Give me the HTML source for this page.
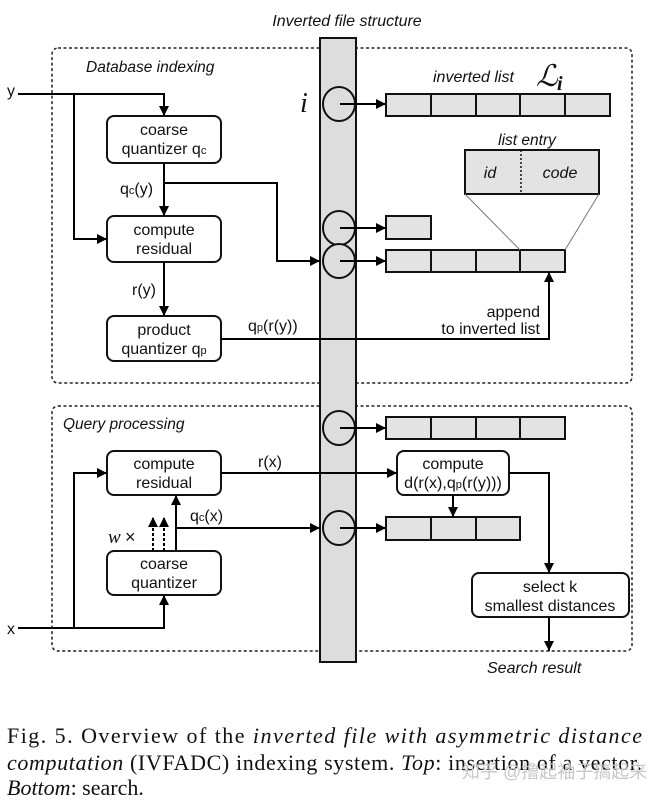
<!DOCTYPE html>
<html><head><meta charset="utf-8"><style>
html,body{margin:0;padding:0;background:#fff;}
svg{display:block;}
text{font-family:"Liberation Sans",sans-serif;fill:#111;}
text.s,.cap text{font-family:"Liberation Serif",serif;}
</style></head><body>
<svg width="672" height="802" viewBox="0 0 672 802" xmlns="http://www.w3.org/2000/svg">
<defs>
<marker id="a" viewBox="0 0 10 10" refX="10" refY="5" markerWidth="10" markerHeight="10" markerUnits="userSpaceOnUse" orient="auto"><path d="M0,0 L10,5 L0,10 z" fill="#000"/></marker>
</defs>
<g fill="none" stroke="#222" stroke-width="1.5" stroke-dasharray="3,2.5">
<rect x="52" y="48" width="580" height="335" rx="6"/>
<rect x="52" y="406" width="580" height="245" rx="6"/>
</g>
<text x="347" y="26" font-size="16" font-style="italic" text-anchor="middle">Inverted file structure</text>
<rect x="320" y="38" width="36" height="624" fill="#ddd" stroke="#111" stroke-width="2"/>
<text x="86" y="72" font-size="15.5" font-style="italic">Database indexing</text>
<text x="63" y="429" font-size="15.5" font-style="italic">Query processing</text>
<g fill="#ddd" stroke="#111" stroke-width="2">
<ellipse cx="339" cy="104" rx="16" ry="17"/>
<ellipse cx="339" cy="228" rx="16" ry="17"/>
<ellipse cx="339" cy="261" rx="16" ry="17"/>
<ellipse cx="339" cy="428" rx="16" ry="17"/>
<ellipse cx="339" cy="528" rx="16" ry="17"/>
</g>
<text x="300" y="112" class="s" font-size="28" font-style="italic">i</text>
<g fill="#e3e3e3" stroke="#111" stroke-width="2">
<rect x="386" y="94" width="224" height="22"/>
<rect x="386" y="216" width="45" height="23"/>
<rect x="386" y="250" width="179" height="22"/>
<rect x="386" y="417" width="179" height="22"/>
<rect x="386" y="517" width="134" height="23"/>
<rect x="465" y="150" width="134" height="44"/>
</g>
<g stroke="#111" stroke-width="2">
<path d="M431,94V116M476,94V116M520,94V116M565,94V116"/>
<path d="M431,250V272M476,250V272M520,250V272"/>
<path d="M431,417V439M476,417V439M520,417V439"/>
<path d="M431,517V540M476,517V540"/>
</g>
<path d="M521,150V194" stroke="#111" stroke-width="1.5" stroke-dasharray="2,2"/>
<path d="M465,194L520,250M599,194L565,250" stroke="#777" stroke-width="1"/>
<text x="433" y="82" font-size="16" font-style="italic">inverted list</text>
<text x="536" y="86" class="s" font-size="30" font-style="italic">ℒ</text><text x="557" y="90" class="s" font-size="20" font-style="italic" font-weight="bold">i</text>
<text x="527" y="145" font-size="15.5" font-style="italic" text-anchor="middle">list entry</text>
<text x="490" y="178" font-size="16" font-style="italic" text-anchor="middle">id</text>
<text x="560" y="178" font-size="16" font-style="italic" text-anchor="middle">code</text>
<g fill="#fff" stroke="#111" stroke-width="2">
<rect x="107" y="116" width="114" height="47" rx="7"/>
<rect x="107" y="216" width="114" height="46" rx="7"/>
<rect x="107" y="316" width="114" height="45" rx="7"/>
<rect x="107" y="451" width="114" height="44" rx="7"/>
<rect x="107" y="551" width="114" height="44" rx="7"/>
<rect x="397" y="451" width="112" height="44" rx="7"/>
<rect x="472" y="573" width="157" height="44" rx="7"/>
</g>
<g font-size="16" text-anchor="middle">
<text x="164" y="135">coarse</text><text x="164" y="154">quantizer q<tspan font-size="11">c</tspan></text>
<text x="164" y="235">compute</text><text x="164" y="254">residual</text>
<text x="164" y="335">product</text><text x="164" y="354">quantizer q<tspan font-size="11">p</tspan></text>
<text x="164" y="469">compute</text><text x="164" y="488">residual</text>
<text x="164" y="569">coarse</text><text x="164" y="588">quantizer</text>
<text x="453" y="469">compute</text><text x="453" y="488">d(r(x),q<tspan font-size="11">p</tspan>(r(y)))</text>
<text x="550" y="592">select k</text><text x="550" y="611">smallest distances</text>
</g>
<g font-size="16">
<text x="7" y="96">y</text>
<text x="7" y="634">x</text>
<text x="120" y="194">q<tspan font-size="11">c</tspan>(y)</text>
<text x="132" y="295">r(y)</text>
<text x="248" y="331">q<tspan font-size="11">p</tspan>(r(y))</text>
<text x="540" y="317" text-anchor="end">append</text>
<text x="540" y="334" text-anchor="end">to inverted list</text>
<text x="258" y="467">r(x)</text>
<text x="190" y="521">q<tspan font-size="11">c</tspan>(x)</text>
<text x="487" y="673" font-style="italic">Search result</text>
</g>
<text x="108" y="543" class="s" font-size="19" font-style="italic">w</text><text x="125" y="543" font-size="18">×</text>
<g fill="none" stroke="#000" stroke-width="2">
<path d="M18,94H164V116" marker-end="url(#a)"/>
<path d="M74,94V239H107" marker-end="url(#a)"/>
<path d="M164,163V216" marker-end="url(#a)"/>
<path d="M164,183H277V261H320" marker-end="url(#a)"/>
<path d="M164,262V316" marker-end="url(#a)"/>
<path d="M221,339H549V272" marker-end="url(#a)"/>
<path d="M340,104H386" marker-end="url(#a)"/>
<path d="M340,228H386" marker-end="url(#a)"/>
<path d="M340,261H386" marker-end="url(#a)"/>
<path d="M340,428H386" marker-end="url(#a)"/>
<path d="M340,528H386" marker-end="url(#a)"/>
<path d="M18,628H164V595" marker-end="url(#a)"/>
<path d="M74,628V473H107" marker-end="url(#a)"/>
<path d="M176,551V495" marker-end="url(#a)"/>
<path d="M176,528H320" marker-end="url(#a)"/>
<path d="M221,473H397" marker-end="url(#a)"/>
<path d="M453,495V517" marker-end="url(#a)"/>
<path d="M509,473H549V573" marker-end="url(#a)"/>
<path d="M549,617V651" marker-end="url(#a)"/>
<path d="M153,551V517" stroke-dasharray="3,2" marker-end="url(#a)"/>
<path d="M164,551V517" stroke-dasharray="3,2" marker-end="url(#a)"/>
</g>
<g class="cap" font-size="22">
<text x="7" y="743" textLength="635" lengthAdjust="spacing">Fig. 5.    Overview of the <tspan font-style="italic">inverted file with asymmetric distance</tspan></text>
<text x="7" y="770" textLength="635" lengthAdjust="spacing"><tspan font-style="italic">computation</tspan> (IVFADC) indexing system. <tspan font-style="italic">Top</tspan>: insertion of a vector.</text>
<text x="7" y="795"><tspan font-style="italic">Bottom</tspan>: search.</text>
</g>
<text x="462" y="778" font-size="18" style="fill:#c8c8c8;font-family:'Liberation Sans','Noto Sans CJK SC',sans-serif">知乎 @撸起袖子搞起来</text>
</svg>
</body></html>
